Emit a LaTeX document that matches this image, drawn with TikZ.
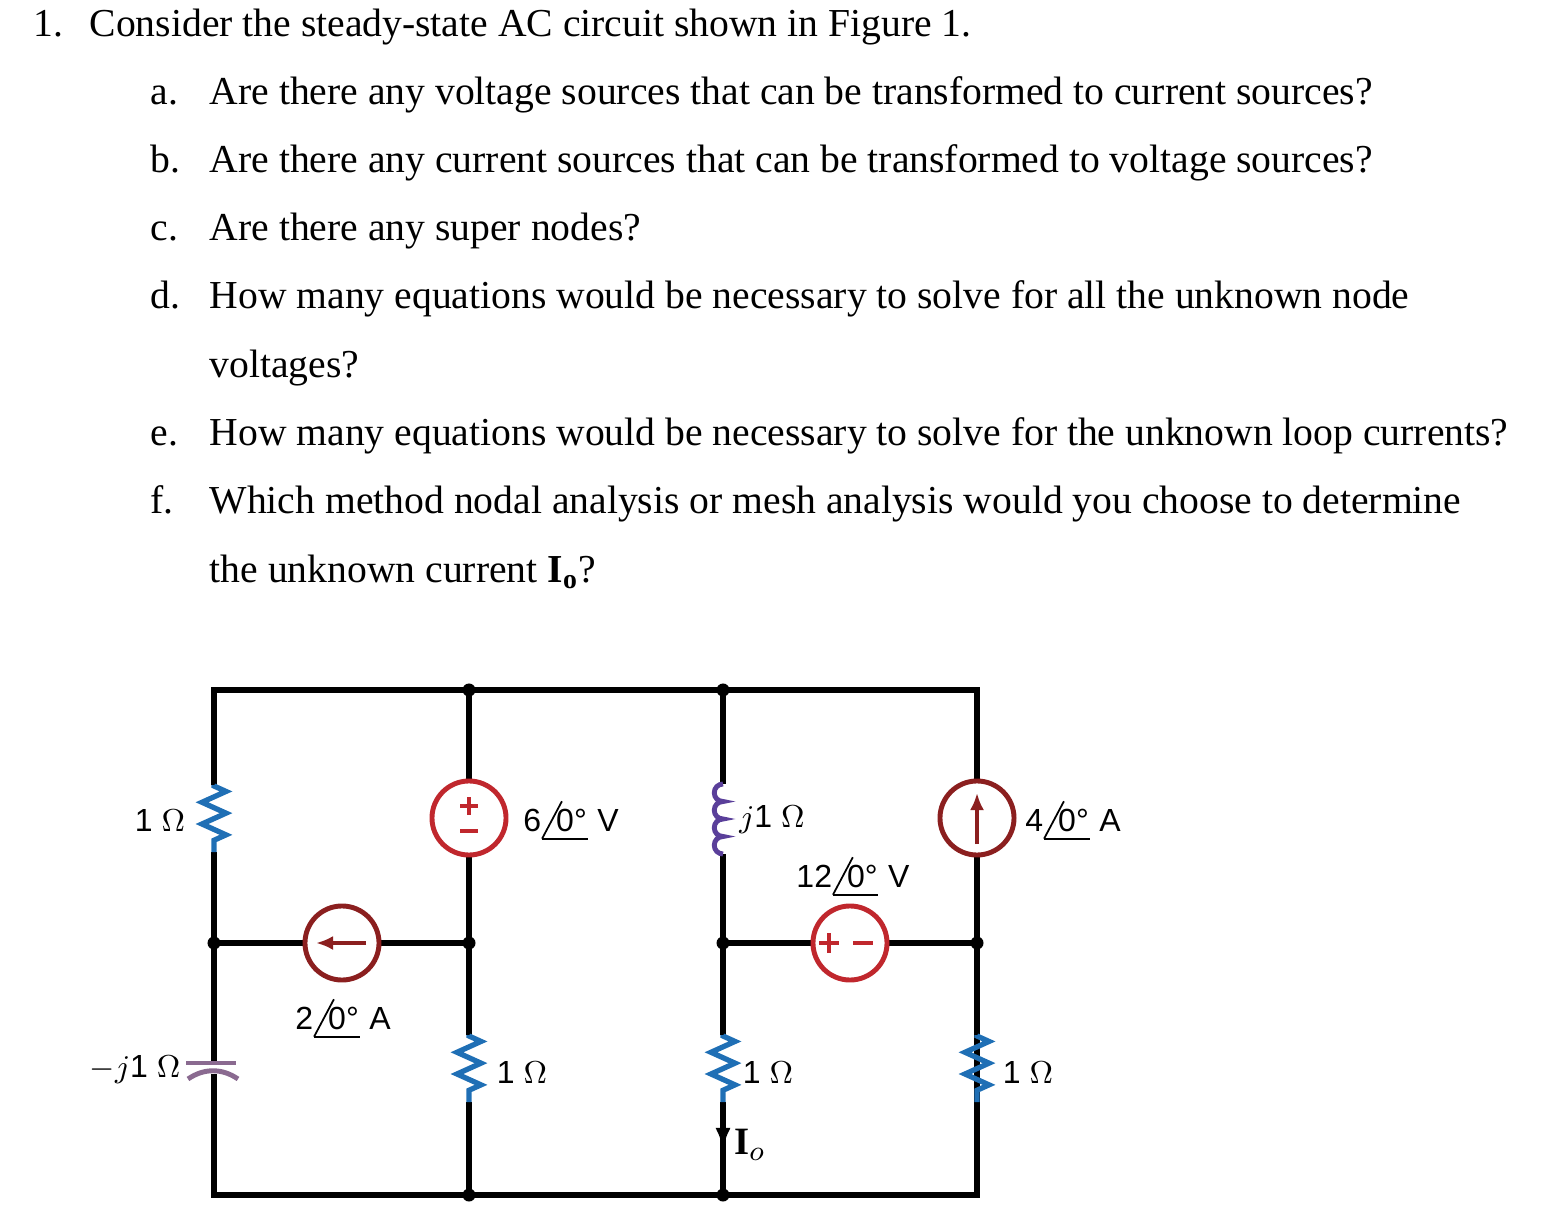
\documentclass[tikz,border=0pt]{standalone}
\usepackage{fontspec}
\setmainfont{Liberation Serif}
\newfontfamily\cfont{Liberation Sans}
\usetikzlibrary{decorations.pathmorphing,arrows.meta}
\definecolor{resblue}{HTML}{1F6FB5}
\definecolor{indpurple}{HTML}{5A3F9A}
\definecolor{cappurple}{HTML}{8A6A90}
\definecolor{vsred}{HTML}{C0272D}
\definecolor{csred}{HTML}{8B1F1F}
\newcommand\angl[1]{\tikz[baseline=0pt]{\node[inner sep=0pt,anchor=base west] (t) at (0.42em,0) {#1}; \draw[line width=0.5pt] (0,-0.22em) -- (0.62em,0.95em); \draw[line width=0.5pt] (0,-0.22em) -- (t.base east |- 0,-0.22em);}}
\tikzset{
 q/.style={anchor=base west,inner sep=0pt,font=\fontsize{11.27pt}{13pt}\selectfont},
 wire/.style={line width=1.5pt},
 lab/.style={inner sep=0pt,font=\cfont\fontsize{9.1pt}{10pt}\selectfont},
 res/.style={draw=resblue,line width=1.5pt,decorate,decoration={zigzag,segment length=0.217cm,amplitude=0.12cm,pre length=0.01cm,post length=0.01cm}},
 dot/.style={circle,fill=black,inner sep=0pt,minimum size=0.13cm},
 vs/.style={circle,draw=vsred,line width=1.4pt,minimum size=0.74cm,inner sep=0pt,fill=white},
 cs/.style={circle,draw=csred,line width=1.4pt,minimum size=0.74cm,inner sep=0pt,fill=white},
}
\begin{document}
\begin{tikzpicture}[x=0.01cm,y=-0.01cm]
\useasboundingbox (0,0) rectangle (1558,1216);
% text
\node[q] (t1n) at (33,37) {1.};
\node[q] (t1) at (89,37) {Consider the steady-state AC circuit shown in Figure 1.};
\node[q] (tan) at (150,105) {a.};
\node[q] (ta) at (209,105) {Are there any voltage sources that can be transformed to current sources?};
\node[q] (tbn) at (150,173) {b.};
\node[q] (tb) at (209,173) {Are there any current sources that can be transformed to voltage sources?};
\node[q] (tcn) at (150,241) {c.};
\node[q] (tc) at (209,241) {Are there any super nodes?};
\node[q] (tdn) at (150,309) {d.};
\node[q] (td) at (209,309) {How many equations would be necessary to solve for all the unknown node};
\node[q] (td2) at (209,378) {voltages?};
\node[q] (ten) at (150,446) {e.};
\node[q] (te) at (209,446) {How many equations would be necessary to solve for the unknown loop currents?};
\node[q] (tfn) at (150,514) {f.};
\node[q] (tf) at (209,514) {Which method nodal analysis or mesh analysis would you choose to determine};
\node[q] (tf2) at (209,583) {the unknown current $\mathbf{I}_{\mathbf{o}}$?};
% coordinates
\coordinate (TL) at (214,690); \coordinate (T2) at (469,690); \coordinate (T3) at (723,690); \coordinate (TR) at (977,690);
\coordinate (ML) at (214,943); \coordinate (M2) at (469,943); \coordinate (M3) at (723,943); \coordinate (MR) at (977,943);
\coordinate (BL) at (214,1195); \coordinate (B2) at (469,1195); \coordinate (B3) at (723,1195); \coordinate (BR) at (977,1195);
\coordinate (r1a) at (214,785); \coordinate (r1b) at (214,852);
\coordinate (r2a) at (469,1035); \coordinate (r2b) at (469,1102);
\coordinate (r3a) at (723,1035); \coordinate (r3b) at (723,1102);
\coordinate (r4a) at (977,1035); \coordinate (r4b) at (977,1102);
\coordinate (la) at (723,784); \coordinate (lb) at (723,854);
\coordinate (ca) at (214,1063); \coordinate (cb) at (214,1074);
% wires
\draw[wire] (r1a) -- (TL) -- (TR) -- (MR) -- (BR) -- (BL) -- (cb);
\draw[wire] (r1b) -- (ca);
\draw[wire] (T2) -- (r2a); \draw[wire] (r2b) -- (B2);
\draw[wire] (T3) -- (la); \draw[wire] (lb) -- (r3a); \draw[wire] (r3b) -- (B3);
\draw[wire] (MR) -- (r4a); \draw[wire] (r4b) -- (BR);
\draw[wire] (ML) -- (M2); \draw[wire] (M3) -- (MR);
% resistors
\draw[res] (r1a) -- (r1b);
\draw[res] (r2a) -- (r2b);
\draw[res] (r3a) -- (r3b);
\draw[res] (r4a) -- (r4b);
% inductor
\draw[indpurple,line width=1.4pt] (la) arc[start angle=270,end angle=90,radius=8.75] arc[start angle=270,end angle=90,radius=8.75] arc[start angle=270,end angle=90,radius=8.75] arc[start angle=270,end angle=90,radius=8.75];
% capacitor
\draw[cappurple,line width=1.4pt] (186,1063) -- (236,1063);
\draw[cappurple,line width=1.4pt] (188,1079) .. controls (204,1068) and (222,1068) .. (238,1079);
% sources
\node[vs] (v6) at (469,818) {};
\draw[vsred,line width=0.9pt] (469,797) -- (469,815) (460,806) -- (478,806) (460,831) -- (478,831);
\node[cs] (i2) at (342,943) {};
\draw[csred,line width=1.4pt,-{Latex[length=0.17cm,width=0.14cm]}] (366,943) -- (316,943);
\node[vs] (v12) at (850,943) {};
\draw[vsred,line width=0.9pt] (819,943) -- (839,943) (829,933) -- (829,953) (853,943) -- (873,943);
\node[cs] (i4) at (977,818) {};
\draw[csred,line width=1.4pt,-{Latex[length=0.17cm,width=0.14cm]}] (977,844) -- (977,793);
% Io arrow
\draw[-{Latex[length=0.22cm,width=0.15cm]},line width=1.4pt] (723,1110) -- (723,1150);
% dots
\foreach \p in {T2,T3,ML,M2,M3,MR,B2,B3} \node[dot] at (\p) {};
% labels
\node[lab] (l1) at (160,820) {1 $\Omega$};
\node[lab] (l2) at (135,1070) {$-j$1 $\Omega$};
\node[lab] (l3) at (343,1018) {2\angl{0°} A};
\node[lab] (l4) at (571,820) {6\angl{0°} V};
\node[lab] (l5) at (522,1072) {1 $\Omega$};
\node[lab] (l6) at (772,820) {$j$1 $\Omega$};
\node[lab] (l7) at (853,876) {12\angl{0°} V};
\node[lab] (l8) at (768,1072) {1 $\Omega$};
\node[lab] (l9) at (1073,820) {4\angl{0°} A};
\node[lab] (l10) at (1028,1072) {1 $\Omega$};
\node[inner sep=0pt,font=\fontsize{11pt}{12pt}\selectfont] (lio) at (750,1145) {$\mathbf{I}_{o}$};
\end{tikzpicture}
\end{document}
